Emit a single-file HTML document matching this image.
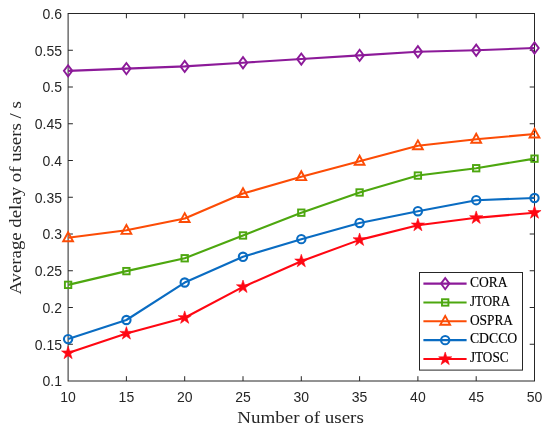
<!DOCTYPE html><html><head><meta charset="utf-8"><title>chart</title><style>html,body{margin:0;padding:0;background:#fff}svg{display:block}</style></head><body>
<svg width="550" height="430" viewBox="0 0 550 430">
<rect width="550" height="430" fill="#fff"/>
<rect x="68.1" y="13.5" width="466.4" height="367.5" fill="none" stroke="#262626" stroke-width="1"/>
<path d="M126.40 381.0v-4.8M126.40 13.5v4.8M184.70 381.0v-4.8M184.70 13.5v4.8M243.00 381.0v-4.8M243.00 13.5v4.8M301.30 381.0v-4.8M301.30 13.5v4.8M359.60 381.0v-4.8M359.60 13.5v4.8M417.90 381.0v-4.8M417.90 13.5v4.8M476.20 381.0v-4.8M476.20 13.5v4.8M68.1 344.25h4.8M534.5 344.25h-4.8M68.1 307.50h4.8M534.5 307.50h-4.8M68.1 270.75h4.8M534.5 270.75h-4.8M68.1 234.00h4.8M534.5 234.00h-4.8M68.1 197.25h4.8M534.5 197.25h-4.8M68.1 160.50h4.8M534.5 160.50h-4.8M68.1 123.75h4.8M534.5 123.75h-4.8M68.1 87.00h4.8M534.5 87.00h-4.8M68.1 50.25h4.8M534.5 50.25h-4.8" stroke="#262626" stroke-width="1" fill="none"/>
<polyline points="68.10,70.83 126.40,68.62 184.70,66.42 243.00,62.74 301.30,59.07 359.60,55.39 417.90,51.72 476.20,50.25 534.50,48.04" fill="none" stroke="#8c1a99" stroke-width="2.1" stroke-linejoin="round"/>
<path d="M68.10 65.23L72.30 70.83L68.10 76.43L63.90 70.83Z" fill="none" stroke="#8c1a99" stroke-width="1.9" stroke-linejoin="miter"/>
<path d="M126.40 63.02L130.60 68.62L126.40 74.22L122.20 68.62Z" fill="none" stroke="#8c1a99" stroke-width="1.9" stroke-linejoin="miter"/>
<path d="M184.70 60.82L188.90 66.42L184.70 72.02L180.50 66.42Z" fill="none" stroke="#8c1a99" stroke-width="1.9" stroke-linejoin="miter"/>
<path d="M243.00 57.14L247.20 62.74L243.00 68.34L238.80 62.74Z" fill="none" stroke="#8c1a99" stroke-width="1.9" stroke-linejoin="miter"/>
<path d="M301.30 53.47L305.50 59.07L301.30 64.67L297.10 59.07Z" fill="none" stroke="#8c1a99" stroke-width="1.9" stroke-linejoin="miter"/>
<path d="M359.60 49.79L363.80 55.39L359.60 60.99L355.40 55.39Z" fill="none" stroke="#8c1a99" stroke-width="1.9" stroke-linejoin="miter"/>
<path d="M417.90 46.12L422.10 51.72L417.90 57.32L413.70 51.72Z" fill="none" stroke="#8c1a99" stroke-width="1.9" stroke-linejoin="miter"/>
<path d="M476.20 44.65L480.40 50.25L476.20 55.85L472.00 50.25Z" fill="none" stroke="#8c1a99" stroke-width="1.9" stroke-linejoin="miter"/>
<path d="M534.50 42.44L538.70 48.04L534.50 53.64L530.30 48.04Z" fill="none" stroke="#8c1a99" stroke-width="1.9" stroke-linejoin="miter"/>
<polyline points="68.10,284.86 126.40,271.12 184.70,258.25 243.00,235.47 301.30,212.69 359.60,192.47 417.90,175.57 476.20,168.22 534.50,158.66" fill="none" stroke="#4da70f" stroke-width="2.1" stroke-linejoin="round"/>
<rect x="64.90" y="281.66" width="6.40" height="6.40" fill="none" stroke="#4da70f" stroke-width="1.9"/>
<rect x="123.20" y="267.92" width="6.40" height="6.40" fill="none" stroke="#4da70f" stroke-width="1.9"/>
<rect x="181.50" y="255.06" width="6.40" height="6.40" fill="none" stroke="#4da70f" stroke-width="1.9"/>
<rect x="239.80" y="232.27" width="6.40" height="6.40" fill="none" stroke="#4da70f" stroke-width="1.9"/>
<rect x="298.10" y="209.49" width="6.40" height="6.40" fill="none" stroke="#4da70f" stroke-width="1.9"/>
<rect x="356.40" y="189.27" width="6.40" height="6.40" fill="none" stroke="#4da70f" stroke-width="1.9"/>
<rect x="414.70" y="172.37" width="6.40" height="6.40" fill="none" stroke="#4da70f" stroke-width="1.9"/>
<rect x="473.00" y="165.02" width="6.40" height="6.40" fill="none" stroke="#4da70f" stroke-width="1.9"/>
<rect x="531.30" y="155.46" width="6.40" height="6.40" fill="none" stroke="#4da70f" stroke-width="1.9"/>
<polyline points="68.10,237.68 126.40,230.33 184.70,218.56 243.00,193.57 301.30,176.67 359.60,161.23 417.90,145.80 476.20,139.19 534.50,134.04" fill="none" stroke="#fc4c06" stroke-width="2.1" stroke-linejoin="round"/>
<path d="M68.10 232.28L73.00 241.18L63.20 241.18Z" fill="none" stroke="#fc4c06" stroke-width="1.9" stroke-linejoin="miter"/>
<path d="M126.40 224.93L131.30 233.83L121.50 233.83Z" fill="none" stroke="#fc4c06" stroke-width="1.9" stroke-linejoin="miter"/>
<path d="M184.70 213.16L189.60 222.06L179.80 222.06Z" fill="none" stroke="#fc4c06" stroke-width="1.9" stroke-linejoin="miter"/>
<path d="M243.00 188.17L247.90 197.07L238.10 197.07Z" fill="none" stroke="#fc4c06" stroke-width="1.9" stroke-linejoin="miter"/>
<path d="M301.30 171.27L306.20 180.17L296.40 180.17Z" fill="none" stroke="#fc4c06" stroke-width="1.9" stroke-linejoin="miter"/>
<path d="M359.60 155.83L364.50 164.73L354.70 164.73Z" fill="none" stroke="#fc4c06" stroke-width="1.9" stroke-linejoin="miter"/>
<path d="M417.90 140.40L422.80 149.30L413.00 149.30Z" fill="none" stroke="#fc4c06" stroke-width="1.9" stroke-linejoin="miter"/>
<path d="M476.20 133.79L481.10 142.69L471.30 142.69Z" fill="none" stroke="#fc4c06" stroke-width="1.9" stroke-linejoin="miter"/>
<path d="M534.50 128.64L539.40 137.54L529.60 137.54Z" fill="none" stroke="#fc4c06" stroke-width="1.9" stroke-linejoin="miter"/>
<polyline points="68.10,339.11 126.40,320.00 184.70,282.51 243.00,256.78 301.30,239.15 359.60,222.97 417.90,211.22 476.20,200.19 534.50,197.99" fill="none" stroke="#0a6cc2" stroke-width="2.1" stroke-linejoin="round"/>
<circle cx="68.10" cy="339.11" r="4.15" fill="none" stroke="#0a6cc2" stroke-width="2.1"/>
<circle cx="126.40" cy="320.00" r="4.15" fill="none" stroke="#0a6cc2" stroke-width="2.1"/>
<circle cx="184.70" cy="282.51" r="4.15" fill="none" stroke="#0a6cc2" stroke-width="2.1"/>
<circle cx="243.00" cy="256.78" r="4.15" fill="none" stroke="#0a6cc2" stroke-width="2.1"/>
<circle cx="301.30" cy="239.15" r="4.15" fill="none" stroke="#0a6cc2" stroke-width="2.1"/>
<circle cx="359.60" cy="222.97" r="4.15" fill="none" stroke="#0a6cc2" stroke-width="2.1"/>
<circle cx="417.90" cy="211.22" r="4.15" fill="none" stroke="#0a6cc2" stroke-width="2.1"/>
<circle cx="476.20" cy="200.19" r="4.15" fill="none" stroke="#0a6cc2" stroke-width="2.1"/>
<circle cx="534.50" cy="197.99" r="4.15" fill="none" stroke="#0a6cc2" stroke-width="2.1"/>
<polyline points="68.10,353.07 126.40,333.52 184.70,317.79 243.00,286.92 301.30,261.19 359.60,239.88 417.90,225.18 476.20,217.83 534.50,212.69" fill="none" stroke="#ff0712" stroke-width="2.1" stroke-linejoin="round"/>
<polygon points="68.10,346.17 69.66,350.93 74.66,350.94 70.62,353.89 72.16,358.65 68.10,355.72 64.04,358.65 65.58,353.89 61.54,350.94 66.54,350.93" fill="#ff0712" stroke="#ff0712" stroke-width="0.6"/>
<polygon points="126.40,326.62 127.96,331.38 132.96,331.39 128.92,334.34 130.46,339.10 126.40,336.17 122.34,339.10 123.88,334.34 119.84,331.39 124.84,331.38" fill="#ff0712" stroke="#ff0712" stroke-width="0.6"/>
<polygon points="184.70,310.89 186.26,315.65 191.26,315.66 187.22,318.61 188.76,323.37 184.70,320.44 180.64,323.37 182.18,318.61 178.14,315.66 183.14,315.65" fill="#ff0712" stroke="#ff0712" stroke-width="0.6"/>
<polygon points="243.00,280.02 244.56,284.78 249.56,284.79 245.52,287.74 247.06,292.50 243.00,289.57 238.94,292.50 240.48,287.74 236.44,284.79 241.44,284.78" fill="#ff0712" stroke="#ff0712" stroke-width="0.6"/>
<polygon points="301.30,254.29 302.86,259.05 307.86,259.06 303.82,262.01 305.36,266.78 301.30,263.84 297.24,266.78 298.78,262.01 294.74,259.06 299.74,259.05" fill="#ff0712" stroke="#ff0712" stroke-width="0.6"/>
<polygon points="359.60,232.98 361.16,237.74 366.16,237.75 362.12,240.70 363.66,245.46 359.60,242.53 355.54,245.46 357.08,240.70 353.04,237.75 358.04,237.74" fill="#ff0712" stroke="#ff0712" stroke-width="0.6"/>
<polygon points="417.90,218.28 419.46,223.04 424.46,223.05 420.42,226.00 421.96,230.76 417.90,227.83 413.84,230.76 415.38,226.00 411.34,223.05 416.34,223.04" fill="#ff0712" stroke="#ff0712" stroke-width="0.6"/>
<polygon points="476.20,210.93 477.76,215.69 482.76,215.70 478.72,218.65 480.26,223.41 476.20,220.48 472.14,223.41 473.68,218.65 469.64,215.70 474.64,215.69" fill="#ff0712" stroke="#ff0712" stroke-width="0.6"/>
<polygon points="534.50,205.78 536.06,210.54 541.06,210.55 537.02,213.50 538.56,218.27 534.50,215.34 530.44,218.27 531.98,213.50 527.94,210.55 532.94,210.54" fill="#ff0712" stroke="#ff0712" stroke-width="0.6"/>
<g font-family="'Liberation Sans', Arial, sans-serif" font-size="14" fill="#262626">
<text x="68.10" y="401.6" text-anchor="middle">10</text>
<text x="126.40" y="401.6" text-anchor="middle">15</text>
<text x="184.70" y="401.6" text-anchor="middle">20</text>
<text x="243.00" y="401.6" text-anchor="middle">25</text>
<text x="301.30" y="401.6" text-anchor="middle">30</text>
<text x="359.60" y="401.6" text-anchor="middle">35</text>
<text x="417.90" y="401.6" text-anchor="middle">40</text>
<text x="476.20" y="401.6" text-anchor="middle">45</text>
<text x="534.50" y="401.6" text-anchor="middle">50</text>
<text x="62" y="386.40" text-anchor="end">0.1</text>
<text x="62" y="349.65" text-anchor="end">0.15</text>
<text x="62" y="312.90" text-anchor="end">0.2</text>
<text x="62" y="276.15" text-anchor="end">0.25</text>
<text x="62" y="239.40" text-anchor="end">0.3</text>
<text x="62" y="202.65" text-anchor="end">0.35</text>
<text x="62" y="165.90" text-anchor="end">0.4</text>
<text x="62" y="129.15" text-anchor="end">0.45</text>
<text x="62" y="92.40" text-anchor="end">0.5</text>
<text x="62" y="55.65" text-anchor="end">0.55</text>
<text x="62" y="18.90" text-anchor="end">0.6</text>
</g>
<g font-family="'Liberation Serif', 'Times New Roman', serif" fill="#262626">
<text x="237.3" y="422.5" font-size="16" textLength="126.5" lengthAdjust="spacingAndGlyphs">Number of users</text>
<text transform="translate(21.3 294.6) rotate(-90)" font-size="16" textLength="193.3" lengthAdjust="spacingAndGlyphs">Average delay of users / s</text>
</g>
<rect x="419.5" y="272.5" width="103.0" height="97.60000000000002" fill="#fff" stroke="#262626" stroke-width="1"/>
<g font-family="'Liberation Serif', 'Times New Roman', serif" font-size="14.5" fill="#000" stroke="#000" stroke-width="0.15">
<path d="M423.4 283.6H466.6" stroke="#8c1a99" stroke-width="2.1" fill="none"/>
<path d="M445.20 278.00L449.40 283.60L445.20 289.20L441.00 283.60Z" fill="none" stroke="#8c1a99" stroke-width="1.9" stroke-linejoin="miter"/>
<text x="469.9" y="286.80" textLength="37.5" lengthAdjust="spacingAndGlyphs">CORA</text>
<path d="M423.4 302.45H466.6" stroke="#4da70f" stroke-width="2.1" fill="none"/>
<rect x="442.00" y="299.25" width="6.40" height="6.40" fill="none" stroke="#4da70f" stroke-width="1.9"/>
<text x="469.9" y="305.65" textLength="40.2" lengthAdjust="spacingAndGlyphs">JTORA</text>
<path d="M423.4 321.3H466.6" stroke="#fc4c06" stroke-width="2.1" fill="none"/>
<path d="M445.20 315.90L450.10 324.80L440.30 324.80Z" fill="none" stroke="#fc4c06" stroke-width="1.9" stroke-linejoin="miter"/>
<text x="469.9" y="324.50" textLength="43.1" lengthAdjust="spacingAndGlyphs">OSPRA</text>
<path d="M423.4 340.15H466.6" stroke="#0a6cc2" stroke-width="2.1" fill="none"/>
<circle cx="445.20" cy="340.15" r="4.15" fill="none" stroke="#0a6cc2" stroke-width="2.1"/>
<text x="469.9" y="343.35" textLength="47.4" lengthAdjust="spacingAndGlyphs">CDCCO</text>
<path d="M423.4 359.0H466.6" stroke="#ff0712" stroke-width="2.1" fill="none"/>
<polygon points="445.20,352.10 446.76,356.86 451.76,356.87 447.72,359.82 449.26,364.58 445.20,361.65 441.14,364.58 442.68,359.82 438.64,356.87 443.64,356.86" fill="#ff0712" stroke="#ff0712" stroke-width="0.6"/>
<text x="469.9" y="362.20" textLength="38.7" lengthAdjust="spacingAndGlyphs">JTOSC</text>
</g>
</svg></body></html>
